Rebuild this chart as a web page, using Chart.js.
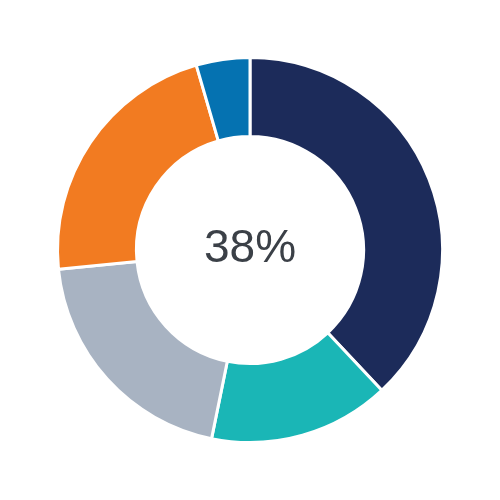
<!DOCTYPE html>
<html>
<head>
<meta charset="utf-8">
<script src="https://cdn.jsdelivr.net/npm/chart.js@4"></script>
<style>
  html, body { margin: 0; padding: 0; background: #ffffff; }
  #wrap { width: 500px; height: 500px; }
</style>
</head>
<body>
<div id="wrap"><canvas id="donut" width="500" height="500"></canvas></div>
<script>
const labels = ['A', 'B', 'C', 'D', 'E'];
const shares = [38, 15.2, 20.2, 22.1, 4.5];
const colors = ['#1c2b5a', '#1ab6b6', '#a8b3c2', '#f27b21', '#0572b1'];
const centerLabel = '38%';

// draws the big number in the hole
const centerText = {
    id: 'centerText',
    afterDraw(chart) {
        const ctx = chart.ctx;
        const meta = chart.getDatasetMeta(0);
        const arc = meta.data[0];
        if (!arc) return;
        ctx.save();
        ctx.font = '46px "Liberation Sans", Arial, sans-serif';
        ctx.fillStyle = '#3b4047';
        ctx.textAlign = 'center';
        ctx.textBaseline = 'middle';
        ctx.fillText(centerLabel, arc.x, arc.y - 1);
        ctx.restore();
    }
};

new Chart(document.getElementById('donut'), {
    type: 'doughnut',
    data: {
        labels: labels,
        datasets: [{
            data: shares,
            backgroundColor: colors,
            borderColor: '#ffffff',
            borderWidth: 3,
            hoverOffset: 0
        }]
    },
    options: {
        responsive: false,
        animation: false,
        cutout: '59%',
        layout: { padding: 56 },
        plugins: {
            legend: { display: false },
            tooltip: { enabled: false }
        }
    },
    plugins: [centerText]
});
</script>
</body>
</html>
